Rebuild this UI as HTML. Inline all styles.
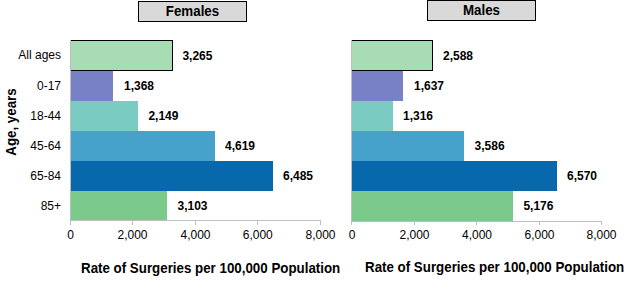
<!DOCTYPE html>
<html><head><meta charset="utf-8">
<style>
html,body{margin:0;padding:0;background:#fff;}
body{width:628px;height:301px;position:relative;overflow:hidden;font-family:"Liberation Sans",sans-serif;color:#000;}
.a{position:absolute;}
.t{position:absolute;white-space:nowrap;line-height:12px;font-size:12px;}
.b{font-weight:bold;}
.title{position:absolute;box-sizing:border-box;border:1px solid #000;background:#d9d9d9;width:109px;height:21px;}
.tt{position:absolute;left:0;right:0;text-align:center;font-weight:bold;font-size:13.33px;line-height:13px;transform:scaleY(1.1);transform-origin:50% 11px;}
.yl{position:absolute;right:567px;text-align:right;white-space:nowrap;font-size:12px;line-height:12px;}
.xl{position:absolute;width:60px;text-align:center;font-size:12px;line-height:12px;}
.axt{position:absolute;white-space:nowrap;font-weight:bold;font-size:13.33px;line-height:13px;transform:scaleY(1.1);transform-origin:0 11px;}
.c1{background:#a8dcb4;}
.c2{background:#7880c6;}
.c3{background:#7accc2;}
.c4{background:#46a2cb;}
.c5{background:#0868ac;}
.c6{background:#7bca8c;}
</style></head><body>
<!-- Females -->
<div class="title" style="left:138px;top:1px;"><div class="tt" style="top:3px;">Females</div></div>
<div class="title" style="left:427px;top:0px;"><div class="tt" style="top:3px;">Males</div></div>

<!-- y axis title -->
<div class="axt" style="left:11px;top:122px;transform:translate(-50%,-50%) rotate(-90deg) scaleY(1.1);transform-origin:50% 50%;">Age, years</div>

<!-- y labels -->
<div class="yl" style="top:49px;">All ages</div>
<div class="yl" style="top:80px;">0-17</div>
<div class="yl" style="top:110px;">18-44</div>
<div class="yl" style="top:140px;">45-64</div>
<div class="yl" style="top:170px;">65-84</div>
<div class="yl" style="top:200px;">85+</div>

<!-- female bars -->
<div class="a c1" style="left:70px;top:40px;width:103px;height:31px;box-sizing:border-box;border:1px solid #000;border-left:none;"></div>
<div class="a c2" style="left:71px;top:71px;width:42px;height:30px;"></div>
<div class="a c3" style="left:71px;top:101px;width:67px;height:30px;"></div>
<div class="a c4" style="left:71px;top:131px;width:144px;height:30px;"></div>
<div class="a c5" style="left:71px;top:161px;width:202px;height:30px;"></div>
<div class="a c6" style="left:71px;top:191px;width:96px;height:29px;"></div>
<!-- female axes -->
<div class="a" style="left:70px;top:40px;width:1px;height:181px;background:#bfbfbf;"></div>
<div class="a" style="left:70px;top:220px;width:251px;height:1px;background:#bfbfbf;"></div>
<div class="a" style="left:70px;top:221px;width:1px;height:4px;background:#bfbfbf;"></div>
<div class="a" style="left:132px;top:221px;width:1px;height:4px;background:#bfbfbf;"></div>
<div class="a" style="left:195px;top:221px;width:1px;height:4px;background:#bfbfbf;"></div>
<div class="a" style="left:257px;top:221px;width:1px;height:4px;background:#bfbfbf;"></div>
<div class="a" style="left:320px;top:221px;width:1px;height:4px;background:#bfbfbf;"></div>
<!-- female labels -->
<div class="t b" style="left:182.4px;top:50px;">3,265</div>
<div class="t b" style="left:124px;top:80px;">1,368</div>
<div class="t b" style="left:148.4px;top:110px;">2,149</div>
<div class="t b" style="left:225px;top:140px;">4,619</div>
<div class="t b" style="left:283px;top:170px;">6,485</div>
<div class="t b" style="left:177.5px;top:200px;">3,103</div>
<!-- female x labels -->
<div class="xl" style="left:40.5px;top:229px;">0</div>
<div class="xl" style="left:102.5px;top:229px;">2,000</div>
<div class="xl" style="left:165.5px;top:229px;">4,000</div>
<div class="xl" style="left:227.75px;top:229px;">6,000</div>
<div class="xl" style="left:290.5px;top:229px;">8,000</div>
<div class="axt" style="left:81px;top:262px;">Rate of Surgeries per 100,000 Population</div>

<!-- male bars -->
<div class="a c1" style="left:351px;top:40px;width:82px;height:31px;box-sizing:border-box;border:1px solid #000;border-left:none;"></div>
<div class="a c2" style="left:352px;top:71px;width:51px;height:30px;"></div>
<div class="a c3" style="left:352px;top:101px;width:41px;height:30px;"></div>
<div class="a c4" style="left:352px;top:131px;width:112px;height:30px;"></div>
<div class="a c5" style="left:352px;top:161px;width:205px;height:30px;"></div>
<div class="a c6" style="left:352px;top:191px;width:161px;height:30px;"></div>
<div class="a" style="left:351px;top:40px;width:1px;height:182px;background:#bfbfbf;"></div>
<div class="a" style="left:351px;top:221px;width:251px;height:1px;background:#bfbfbf;"></div>
<div class="a" style="left:351px;top:222px;width:1px;height:3px;background:#bfbfbf;"></div>
<div class="a" style="left:414px;top:222px;width:1px;height:3px;background:#bfbfbf;"></div>
<div class="a" style="left:476px;top:222px;width:1px;height:3px;background:#bfbfbf;"></div>
<div class="a" style="left:539px;top:222px;width:1px;height:3px;background:#bfbfbf;"></div>
<div class="a" style="left:601px;top:222px;width:1px;height:3px;background:#bfbfbf;"></div>
<div class="t b" style="left:443px;top:50px;">2,588</div>
<div class="t b" style="left:414px;top:80px;">1,637</div>
<div class="t b" style="left:403px;top:110px;">1,316</div>
<div class="t b" style="left:474.6px;top:140px;">3,586</div>
<div class="t b" style="left:567px;top:170px;">6,570</div>
<div class="t b" style="left:523.4px;top:200px;">5,176</div>
<div class="xl" style="left:322px;top:229px;">0</div>
<div class="xl" style="left:384.5px;top:229px;">2,000</div>
<div class="xl" style="left:447px;top:229px;">4,000</div>
<div class="xl" style="left:509.5px;top:229px;">6,000</div>
<div class="xl" style="left:571.5px;top:229px;">8,000</div>
<div class="axt" style="left:365px;top:261px;">Rate of Surgeries per 100,000 Population</div>
</body></html>
